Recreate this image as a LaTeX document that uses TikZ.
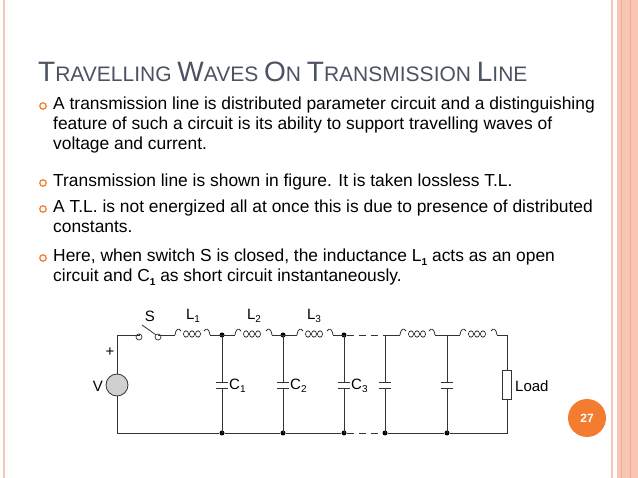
\documentclass[tikz,border=0pt]{standalone}
\usepackage{fontspec}
\setmainfont{Liberation Sans}
\definecolor{pinkl}{HTML}{F8C6B4}
\definecolor{pinkd}{HTML}{F4A98F}
\definecolor{orng}{HTML}{F47C30}
\definecolor{titlec}{HTML}{4B5263}
\definecolor{capg}{HTML}{D0D0D0}
\newcommand{\mysub}[1]{\raisebox{-0.35ex}{\fontsize{10}{10}\selectfont #1}}
\begin{document}
\begin{tikzpicture}[x=1pt,y=-1pt,
  txt/.style={anchor=north west,align=left,inner sep=0pt,font=\fontsize{17.4}{20}\selectfont,text=black},
  bul/.style={draw=orng,line width=1.2pt,circle,minimum size=6.5pt,inner sep=0pt},
  wire/.style={line width=0.8pt,draw=black!80},
  dot/.style={circle,fill=black,inner sep=0pt,minimum size=5pt},
  sw/.style={circle,draw=black!80,fill=white,inner sep=0pt,minimum size=6pt,line width=0.7pt},
  lab/.style={font=\fontsize{15}{15}\selectfont,inner sep=1pt}]
\useasboundingbox (0,0) rectangle (638,478);
\fill[white] (0,0) rectangle (638,478);
% borders
\draw[pinkl,line width=1.5pt] (4,0) -- (4,478);
\draw[pinkl,line width=1.5pt] (612,0) -- (612,478);
\fill[pinkl] (617,0) rectangle (638,478);
\draw[pinkd,line width=0.8pt] (621,0) -- (621,478);
\draw[pinkd,line width=0.8pt] (630,0) -- (630,478);
% title
\node[anchor=base west,inner sep=0pt,text=titlec] (title) at (38,82)
 {\fontsize{28}{28}\selectfont T\fontsize{21}{21}\selectfont RAVELLING \fontsize{28}{28}\selectfont W\fontsize{21}{21}\selectfont AVES \fontsize{28}{28}\selectfont O\fontsize{21}{21}\selectfont N \fontsize{28}{28}\selectfont T\fontsize{21}{21}\selectfont RANSMISSION \fontsize{28}{28}\selectfont L\fontsize{21}{21}\selectfont INE};
% bullets
\node[bul] (b1) at (43,106) {};
\node[txt] (t1) at (53,97) {A transmission line is distributed parameter circuit and a distinguishing\\feature of such a circuit is its ability to support travelling waves of\\voltage and current.};
\node[bul] (b2) at (43,183) {};
\node[txt] (t2) at (53,174) {Transmission line is shown in figure. It is taken lossless T.L.};
\node[bul] (b3) at (43,209) {};
\node[txt] (t3) at (53,200) {A T.L. is not energized all at once this is due to presence of distributed\\constants.};
\node[bul] (b4) at (43,258) {};
\node[txt] (t4) at (53,249) {Here, when switch S is closed, the inductance L\mysub{\bfseries 1} acts as an open\\circuit and C\mysub{\bfseries 1} as short circuit instantaneously.};
% circuit coordinates
\coordinate (tl) at (117,335); \coordinate (bl) at (117,433);
\node[sw] (s1) at (139,337) {};
\node[sw] (s2) at (158,337) {};
\node[circle,draw=black!80,fill=capg,minimum size=22pt,inner sep=0pt,line width=0.8pt] (V) at (117,385) {};
\node[dot] (n1) at (222,335) {}; \node[dot] (m1) at (222,433) {};
\node[dot] (n2) at (283,335) {}; \node[dot] (m2) at (283,433) {};
\node[dot] (n3) at (344,335) {}; \node[dot] (m3) at (344,433) {};
\coordinate (n4) at (385,335); \node[dot] (m4) at (385,433) {};
\coordinate (n5) at (447,335); \node[dot] (m5) at (447,433) {};
\coordinate (n6) at (507,335); \coordinate (m6) at (507,433);
\node[draw=black!80,fill=white,minimum width=9pt,minimum height=29pt,inner sep=0pt,line width=0.8pt] (load) at (507,385) {};
% wires
\draw[wire] (s1) -- (139,335) -- (tl) -- (V.north);
\draw[wire] (V.south) -- (bl) -- (m1) -- (m2) -- (m3);
\draw[wire] (m4) -- (m5) -- (m6) -- (load.south);
\draw[wire] (load.north) -- (n6);
\draw[wire,dash pattern=on 7pt off 5pt] (n3) -- (n4);
\draw[wire,dash pattern=on 7pt off 5pt] (m3) -- (m4);
\draw[wire] (s2.north west) -- (142,325);
% inductors
\foreach \a/\b/\c/\d in {158/175/210/222, 222/235/272/283, 283/297/333/344, 385/400/435/447, 447/460/497/507}{
  \draw[wire] (\a,335) -- (\b,335);
  \draw[wire] (\b,335) .. controls (\b+1,328) and (\b+4,328) .. (\b+6,331);
  \foreach \k in {0,1,2}{
    \draw[line width=0.6pt] ({\b+11+\k*6},334) ellipse (2.5pt and 3.2pt);}
  \draw[wire] (\c-6,331) .. controls (\c-4,328) and (\c-1,328) .. (\c,335);
  \draw[wire] (\c,335) -- (\d,335);
}
% capacitors
\foreach \x in {222,283,344,385,447}{
  \draw[wire] (\x,335) -- (\x,382);
  \draw[wire] (\x-6,382) -- (\x+6,382);
  \draw[wire] (\x-6,388) -- (\x+6,388);
  \draw[wire] (\x,388) -- (\x,433);
}
% labels
\node[lab] (S) at (150,316) {S};
\node[lab] (L1) at (193,316) {L\mysub{1}};
\node[lab] (L2) at (254,316) {L\mysub{2}};
\node[lab] (L3) at (314,316) {L\mysub{3}};
\node[lab,anchor=west] (C1) at (228,386) {C\mysub{1}};
\node[lab,anchor=west] (C2) at (289,386) {C\mysub{2}};
\node[lab,anchor=west] (C3) at (350,386) {C\mysub{3}};
\node[lab,anchor=west] (Ll) at (514,386) {Load};
\node[lab] (Vl) at (98,386) {V};
\node[lab] (pl) at (110,352) {+};
% page number
\node[circle,fill=orng,minimum size=38pt,inner sep=0pt,text=white,font=\bfseries\fontsize{12}{12}\selectfont] (pg) at (587,418) {27};
\end{tikzpicture}
\end{document}
